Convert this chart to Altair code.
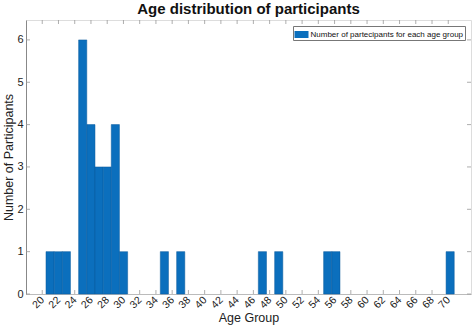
import altair as alt
import pandas as pd

# Histogram bins (left edge of each non-empty bin) and counts
bin_left = [20.46, 21.47, 22.47, 24.48, 25.49, 26.49, 27.50, 28.50, 29.51,
            34.54, 36.55, 46.61, 48.62, 54.65, 55.66, 69.73]
counts = [1, 1, 1, 6, 4, 3, 3, 4, 1, 1, 1, 1, 1, 1, 1, 1]
bin_width = 1.0056
series_name = "Number of partecipants for each age group"

x_ticks = list(range(20, 71, 2))
y_ticks = [0, 1, 2, 3, 4, 5, 6]

df = pd.DataFrame({"start": bin_left, "count": counts})
df["end"] = df["start"] + bin_width
df["series"] = series_name

xt = pd.DataFrame({"v": x_ticks})
yt = pd.DataFrame({"v": y_ticks})

W, H = 445, 274
FONT = "Liberation Sans"
xscale = alt.Scale(domain=[18, 72.8], nice=False, zero=False)
yscale = alt.Scale(domain=[0, 6.47], nice=False)

x_axis = alt.Axis(values=x_ticks, title="Age Group", labelAngle=-45,
                  labelAlign="right", labelBaseline="middle",
                  labelPadding=4, tickSize=0, domainColor="#bbbbbb",
                  grid=False, labelFontSize=10.5, labelColor="#222",
                  labelOverlap=False, labelBound=False, labelFlush=False,
                  titleFontSize=12.5, titleFontWeight="normal",
                  titlePadding=1, titleColor="#222",
                  labelFont=FONT, titleFont=FONT)
y_axis = alt.Axis(values=y_ticks, title="Number of Participants",
                  tickSize=0, domainColor="#888888", grid=False,
                  labelFontSize=11, labelPadding=3, labelColor="#222",
                  labelOverlap=False,
                  titleFontSize=12.5, titleFontWeight="normal",
                  titlePadding=1, titleColor="#222",
                  labelFont=FONT, titleFont=FONT)

bars = alt.Chart(df).mark_bar(stroke="#0a5a9c", strokeWidth=0.5).encode(
    x=alt.X("start:Q", scale=xscale, axis=x_axis),
    x2="end:Q",
    y=alt.Y("count:Q", scale=yscale, axis=y_axis),
    y2=alt.datum(0),
    color=alt.Color("series:N", scale=alt.Scale(range=["#0b6fbd"]),
                    legend=alt.Legend(title=None, orient="none", legendX=267,
                                      legendY=6, symbolType="M-1,-0.5H1V0.5H-1Z",
                                      symbolSize=196, symbolStrokeWidth=0,
                                      labelFontSize=8, labelFont=FONT,
                                      labelColor="#111", strokeColor="#777",
                                      padding=1.5, labelOffset=2,
                                      symbolOffset=0)),
)

tick_color = "#999999"
bottom_ticks = alt.Chart(xt).mark_rule(color=tick_color, strokeWidth=0.8).encode(
    x=alt.X("v:Q", scale=xscale, axis=x_axis), y=alt.value(H), y2=alt.value(H - 4))
top_ticks = alt.Chart(xt).mark_rule(color=tick_color, strokeWidth=0.8).encode(
    x=alt.X("v:Q", scale=xscale, axis=x_axis), y=alt.value(0), y2=alt.value(4))
left_ticks = alt.Chart(yt).mark_rule(color=tick_color, strokeWidth=0.8).encode(
    y=alt.Y("v:Q", scale=yscale, axis=y_axis), x=alt.value(0), x2=alt.value(4))
right_ticks = alt.Chart(yt).mark_rule(color=tick_color, strokeWidth=0.8).encode(
    y=alt.Y("v:Q", scale=yscale, axis=y_axis), x=alt.value(W), x2=alt.value(W - 4))

chart = alt.layer(bottom_ticks, top_ticks, left_ticks, right_ticks, bars).properties(
    width=W, height=H,
    title=alt.TitleParams("Age distribution of participants", fontSize=15,
                          fontWeight="bold", font=FONT, color="#111",
                          anchor="middle", offset=3),
    autosize=alt.AutoSizeParams(type="none"),
    padding={"left": 26, "top": 20, "right": 3, "bottom": 39},
).configure_view(stroke=None).configure(background="white")

chart.save("out.html", embed_options={"renderer": "svg", "actions": False})
